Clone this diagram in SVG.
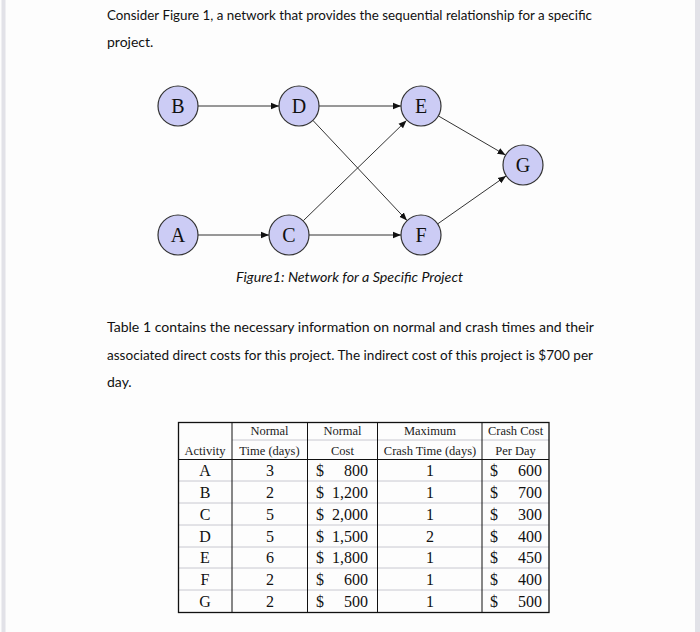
<svg xmlns="http://www.w3.org/2000/svg" width="700" height="632" viewBox="0 0 700 632">
<style>
.body{font-family:Lato,"Open Sans","Liberation Sans",sans-serif;font-size:14px;fill:#111}
.cap{font-family:Lato,"Open Sans","Liberation Sans",sans-serif;font-size:14px;font-style:italic;fill:#111}
.node circle{fill:#ccccf5;stroke:#333;stroke-width:1.2}
.node text{font-family:"Liberation Serif","Times New Roman",serif;font-size:20px;fill:#111;text-anchor:middle}
.edge{stroke:#333;stroke-width:1;fill:none;marker-end:url(#ah)}
.th{font-family:"Liberation Serif","Times New Roman",serif;font-size:12.5px;fill:#222;text-anchor:middle}
.td{font-family:"Liberation Serif","Times New Roman",serif;font-size:16px;fill:#111}
.c{text-anchor:middle}
.r{text-anchor:end}
.grid{stroke:#111;stroke-width:1}
.faint{stroke:#c8c8d0;stroke-width:1}
</style>
<defs>
<marker id="ah" viewBox="0 0 10 10" refX="10" refY="5" markerWidth="8" markerHeight="8" markerUnits="userSpaceOnUse" orient="auto">
<path d="M0,1 L10,5 L0,9 z" fill="#111"/>
</marker>
</defs>
<rect width="700" height="632" fill="#fdfdfd"/>
<rect x="1.5" y="0" width="4" height="632" fill="#e2e2e8"/>
<rect x="695" y="0" width="5" height="632" fill="#e2e2e8"/>

<text class="body" x="107" y="20" textLength="485" lengthAdjust="spacingAndGlyphs">Consider Figure 1, a network that provides the sequential relationship for a specific</text>
<text class="body" x="107" y="47">project.</text>

<g id="connectors">
<line class="edge" x1="198" y1="106" x2="279" y2="106"/>
<line class="edge" x1="319" y1="106" x2="401" y2="106"/>
<line class="edge" x1="198" y1="235" x2="269" y2="235"/>
<line class="edge" x1="309" y1="235" x2="401" y2="235"/>
<line class="edge" x1="313" y1="120.5" x2="407" y2="220.5"/>
<line class="edge" x1="303.5" y1="220.5" x2="406.5" y2="120.5"/>
<line class="edge" x1="438.5" y1="116" x2="505.5" y2="155"/>
<line class="edge" x1="437.5" y1="224" x2="506" y2="176"/>
</g>

<g id="node-B" class="node"><circle cx="178" cy="106" r="20"/><text x="178" y="113">B</text></g>
<g id="node-D" class="node"><circle cx="299" cy="106" r="20"/><text x="299" y="113">D</text></g>
<g id="node-E" class="node"><circle cx="421" cy="106" r="20"/><text x="421" y="113">E</text></g>
<g id="node-G" class="node"><circle cx="523" cy="165" r="20"/><text x="523" y="172">G</text></g>
<g id="node-A" class="node"><circle cx="178" cy="235" r="20"/><text x="178" y="242">A</text></g>
<g id="node-C" class="node"><circle cx="289" cy="235" r="20"/><text x="289" y="242">C</text></g>
<g id="node-F" class="node"><circle cx="421" cy="235" r="20"/><text x="421" y="242">F</text></g>

<text class="cap" x="236" y="282" textLength="227" lengthAdjust="spacingAndGlyphs">Figure1: Network for a Specific Project</text>

<text class="body" x="107" y="332" textLength="487" lengthAdjust="spacingAndGlyphs">Table 1 contains the necessary information on normal and crash times and their</text>
<text class="body" x="107" y="360" textLength="486" lengthAdjust="spacingAndGlyphs">associated direct costs for this project. The indirect cost of this project is $700 per</text>
<text class="body" x="107" y="387">day.</text>

<g id="table">
<line class="faint" x1="232" y1="440" x2="549" y2="440"/>
<line class="faint" x1="178" y1="481" x2="549" y2="481"/>
<line class="faint" x1="178" y1="503" x2="549" y2="503"/>
<line class="faint" x1="178" y1="525" x2="549" y2="525"/>
<line class="faint" x1="178" y1="547" x2="549" y2="547"/>
<line class="faint" x1="178" y1="568" x2="549" y2="568"/>
<line class="faint" x1="178" y1="590" x2="549" y2="590"/>
<line class="grid" x1="178" y1="459.5" x2="549" y2="459.5"/>
<rect x="178.5" y="422.5" width="370.5" height="190" fill="none" stroke="#111" stroke-width="1.3"/>
<line class="grid" x1="232" y1="422" x2="232" y2="612"/>
<line class="grid" x1="307.5" y1="422" x2="307.5" y2="612"/>
<line class="grid" x1="377.5" y1="422" x2="377.5" y2="612"/>
<line class="grid" x1="482" y1="422" x2="482" y2="612"/>

<text class="th" x="269.5" y="435">Normal</text>
<text class="th" x="342.5" y="435">Normal</text>
<text class="th" x="430" y="435">Maximum</text>
<text class="th" x="515.5" y="435">Crash Cost</text>
<text class="th" x="205" y="455">Activity</text>
<text class="th" x="269.5" y="455">Time (days)</text>
<text class="th" x="342.5" y="455">Cost</text>
<text class="th" x="430" y="455">Crash Time (days)</text>
<text class="th" x="515.5" y="455">Per Day</text>

<g class="td">
<text class="c" x="205" y="476">A</text><text class="c" x="270" y="476">3</text><text x="316" y="476">$</text><text class="r" x="368" y="476">800</text><text class="c" x="430" y="476">1</text><text x="490" y="476">$</text><text class="r" x="542" y="476">600</text>
<text class="c" x="205" y="498">B</text><text class="c" x="270" y="498">2</text><text x="316" y="498">$</text><text class="r" x="368" y="498">1,200</text><text class="c" x="430" y="498">1</text><text x="490" y="498">$</text><text class="r" x="542" y="498">700</text>
<text class="c" x="205" y="520">C</text><text class="c" x="270" y="520">5</text><text x="316" y="520">$</text><text class="r" x="368" y="520">2,000</text><text class="c" x="430" y="520">1</text><text x="490" y="520">$</text><text class="r" x="542" y="520">300</text>
<text class="c" x="205" y="542">D</text><text class="c" x="270" y="542">5</text><text x="316" y="542">$</text><text class="r" x="368" y="542">1,500</text><text class="c" x="430" y="542">2</text><text x="490" y="542">$</text><text class="r" x="542" y="542">400</text>
<text class="c" x="205" y="563">E</text><text class="c" x="270" y="563">6</text><text x="316" y="563">$</text><text class="r" x="368" y="563">1,800</text><text class="c" x="430" y="563">1</text><text x="490" y="563">$</text><text class="r" x="542" y="563">450</text>
<text class="c" x="205" y="585">F</text><text class="c" x="270" y="585">2</text><text x="316" y="585">$</text><text class="r" x="368" y="585">600</text><text class="c" x="430" y="585">1</text><text x="490" y="585">$</text><text class="r" x="542" y="585">400</text>
<text class="c" x="205" y="607">G</text><text class="c" x="270" y="607">2</text><text x="316" y="607">$</text><text class="r" x="368" y="607">500</text><text class="c" x="430" y="607">1</text><text x="490" y="607">$</text><text class="r" x="542" y="607">500</text>
</g>
</g>
</svg>
